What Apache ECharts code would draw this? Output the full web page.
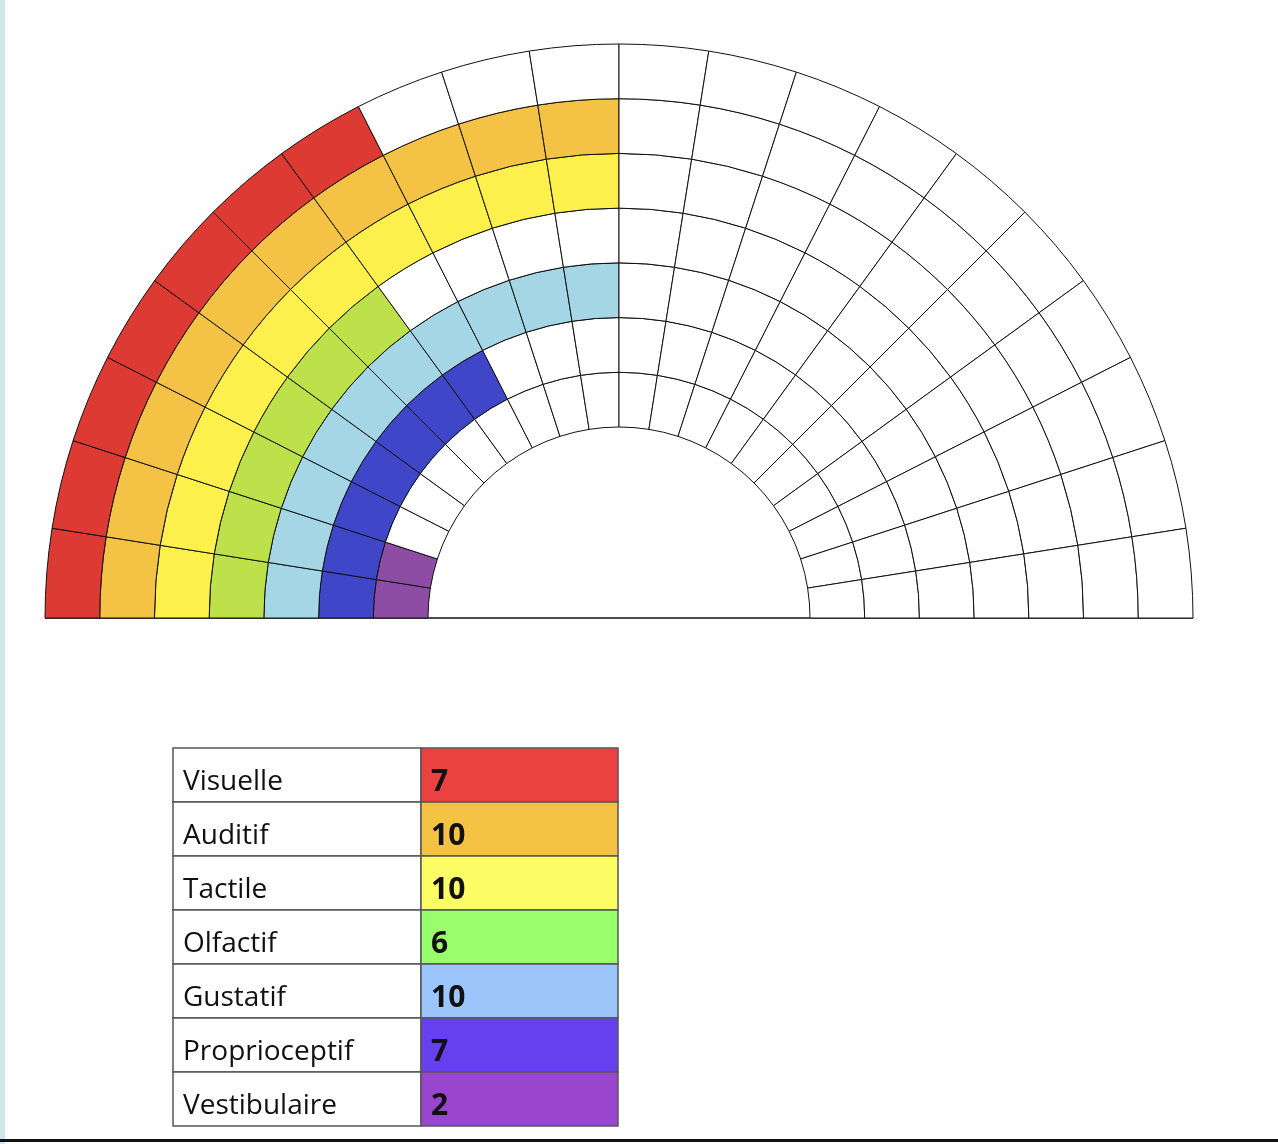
<!DOCTYPE html>
<html><head><meta charset="utf-8">
<script src="https://cdn.jsdelivr.net/npm/echarts@6/dist/echarts.min.js"></script>
<style>html,body{margin:0;padding:0;background:#fff}#c{width:1278px;height:1144px}</style>
</head><body><div id="c"></div>
<script>
const categories = ['Visuelle','Auditif','Tactile','Olfactif','Gustatif','Proprioceptif','Vestibulaire'];
const values = [7,10,10,6,10,7,2];
const segmentsPerRing = 20;
const ringColors = ['#dc3a33','#f4c244','#fef04c','#bde14a','#a5d6e6','#3f47c8','#8e4da4'];
const tableColors = ['#ea4141','#f4c343','#fdfd66','#99fe6c','#9cc6fb','#6640ec','#9a45cf'];

const ringsInnerToOuter = categories.slice().reverse();
const series = [];
for (let s = 0; s < segmentsPerRing; s++) {
  series.push({
    type: 'bar', coordinateSystem: 'polar', stack: 'a', barCategoryGap: '0%', silent: true,
    data: ringsInnerToOuter.map((name) => {
      const i = categories.indexOf(name);
      return { value: 1, itemStyle: { color: s < values[i] ? ringColors[i] : '#ffffff', borderColor: '#111', borderWidth: 1 } };
    })
  });
}

const graphic = [
  { type: 'rect', shape: { x: 0, y: 0, width: 5, height: 1144 }, style: { fill: '#cfe6ea' } },
  { type: 'rect', shape: { x: 0, y: 1139, width: 1278, height: 3 }, style: { fill: '#111' } },
  { type: 'line', shape: { x1: 45, y1: 618, x2: 1193, y2: 618 }, style: { stroke: '#111', lineWidth: 1.5 } }
];
const tx = 173, ty = 748, rh = 54, c1 = 248, c2 = 197;
categories.forEach((name, i) => {
  const y = ty + i * rh;
  graphic.push({ type: 'rect', shape: { x: tx, y: y, width: c1, height: rh }, style: { fill: '#fff', stroke: '#555', lineWidth: 1.5 } });
  graphic.push({ type: 'rect', shape: { x: tx + c1, y: y, width: c2, height: rh }, style: { fill: tableColors[i], stroke: '#555', lineWidth: 1.5 } });
  graphic.push({ type: 'text', x: tx + 10, y: y + 34, style: { text: name, font: '28px "Open Sans", sans-serif', fill: '#111', textVerticalAlign: 'middle' } });
  graphic.push({ type: 'text', x: tx + c1 + 10, y: y + 34, style: { text: String(values[i]), font: 'bold 30px "Open Sans", sans-serif', fill: '#111', textVerticalAlign: 'middle' } });
});

const chart = echarts.init(document.getElementById('c'));
chart.setOption({
  animation: false,
  polar: { center: [619, 618], radius: [191, 574] },
  angleAxis: { type: 'value', min: 0, max: segmentsPerRing * 2, startAngle: 180, clockwise: true,
    axisLine: { show: false }, axisTick: { show: false }, axisLabel: { show: false }, splitLine: { show: false } },
  radiusAxis: { type: 'category', data: ringsInnerToOuter,
    axisLine: { show: false }, axisTick: { show: false }, axisLabel: { show: false }, splitLine: { show: false } },
  series: series,
  graphic: graphic
});
</script></body></html>
